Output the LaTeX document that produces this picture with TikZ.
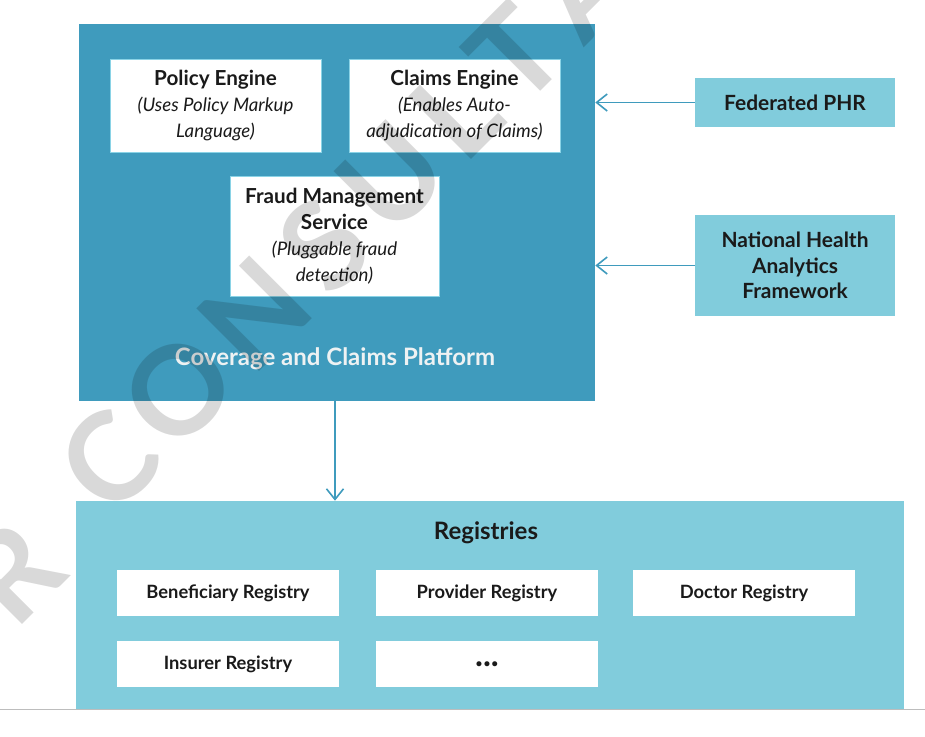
\documentclass[tikz,border=0pt]{standalone}
\usepackage{fontspec}
\setmainfont{Lato}
\usetikzlibrary{arrows.meta}
\definecolor{platblue}{HTML}{3F9BBD}
\definecolor{lightblue}{HTML}{81CCDC}
\definecolor{txt}{HTML}{1A1A1A}
\definecolor{boxedge}{HTML}{8AD3E6}
\definecolor{rulegray}{HTML}{BDBDBD}
\definecolor{platlabel}{HTML}{EEF2F3}
\newcommand{\boxttl}{\fontsize{15.5}{19.5}\selectfont\bfseries\upshape}
\begin{document}
\begin{tikzpicture}[x=0.75pt,y=-0.75pt,
  platbox/.style={fill=platblue, draw=none, minimum width=387pt, minimum height=282.75pt, inner sep=0pt},
  innerbox/.style={fill=white, draw=boxedge, line width=0.6pt, inner sep=0pt, align=center, text=txt,
     font=\fontsize{14}{19.5}\selectfont\itshape},
  extbox/.style={fill=lightblue, draw=none, minimum width=150pt, inner sep=0pt, align=center, text=txt,
     font=\fontsize{15.7}{19}\selectfont\bfseries},
  regarea/.style={fill=lightblue, draw=none, minimum width=621pt, minimum height=156pt, inner sep=0pt},
  regbox/.style={fill=white, draw=none, minimum width=166.5pt, minimum height=34.5pt, inner sep=0pt,
     text=txt, font=\fontsize{13.75}{16}\selectfont\bfseries},
  arr/.style={draw=platblue, line width=1.2pt, -{Straight Barb[length=8pt,width=12.75pt,line width=1.2pt]}},
  wm/.style={text=black, text opacity=0.15, rotate=45, inner sep=0pt, font=\bfseries\fontsize{92}{92}\selectfont}
]
\useasboundingbox (0,0) rectangle (925,736);
\fill[white] (0,0) rectangle (925,736);

% platform
\node[platbox] (plat) at (337,212.5) {};
\node[innerbox, minimum width=158.25pt, minimum height=69.75pt] (policy) at (215.5,105.5)
  {{\boxttl Policy Engine}\\(Uses Policy Markup\\Language)};
\node[innerbox, minimum width=158.25pt, minimum height=69.75pt] (claims) at (454.5,105.5)
  {{\boxttl Claims Engine}\\(Enables Auto-\\adjudication of Claims)};
\node[innerbox, minimum width=156.75pt, minimum height=90pt] (fraud) at (334.5,236)
  {{\boxttl Fraud Management}\\{\boxttl Service}\\(Pluggable fraud\\detection)};
\node[text=platlabel, font=\fontsize{18}{20}\selectfont\bfseries] (platlbl) at (335,359) {Coverage and Claims Platform};

% external
\node[extbox, minimum height=36.75pt] (fed) at (795,102.5) {Federated PHR};
\node[extbox, minimum height=75.75pt] (nat) at (795,265.5) {National Health\\Analytics\\Framework};

% registries
\node[regarea] (reg) at (490,605) {};
\node[text=txt, font=\fontsize{18}{20}\selectfont\bfseries] (regttl) at (486,533) {Registries};
\node[regbox] (benef) at (228,593) {Beneficiary Registry};
\node[regbox] (prov) at (487,593) {Provider Registry};
\node[regbox] (doc) at (744,593) {Doctor Registry};
\node[regbox] (ins) at (228,664) {Insurer Registry};
\node[regbox, font=\fontsize{25}{25}\selectfont\bfseries] (more) at (487,664) {...};

% connectors
\draw[arr] (fed.west) -- (fed.west -| plat.east);
\draw[arr] (nat.west) -- (nat.west -| plat.east);
\coordinate (dtop) at (335,401);
\draw[arr] (dtop) -- (dtop |- reg.north);

% bottom rule
\draw[rulegray, line width=0.9pt] (0,709.5) -- (925,709.5);

% watermark
\begin{scope}
\clip (0,0) rectangle (925,736);
\node[wm] (wR) at (12,572) {R};
\node[wm] (wC) at (109,460) {C};
\node[wm] (wO) at (178,390) {O};
\node[wm] (wN) at (255,314) {N};
\node[wm] (wS) at (324,245) {S};
\node[wm] (wU) at (392,177) {U};
\node[wm] (wL) at (456,113) {L};
\node[wm] (wT) at (515,54) {T};
\node[wm] (wA) at (583,-14) {A};
\end{scope}
\end{tikzpicture}
\end{document}
